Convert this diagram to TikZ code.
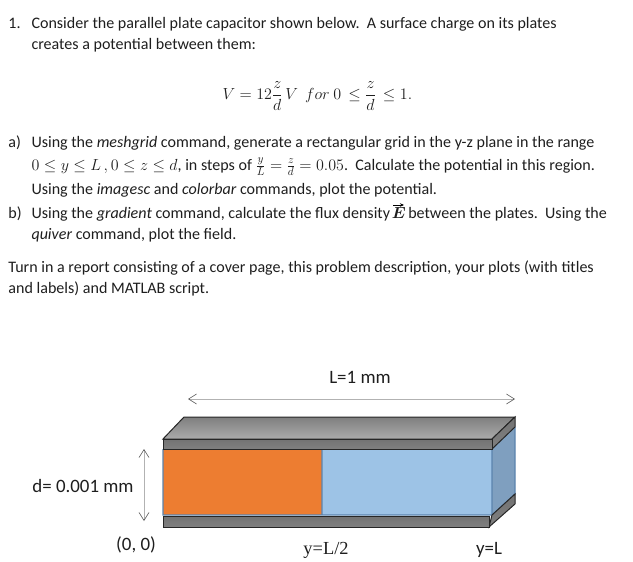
\RequirePackage{fix-cm}
\documentclass[tikz,border=0pt]{standalone}
\usepackage{amsmath}
\usepackage{fontspec}
\setmainfont{Carlito}
\newfontfamily\serifname{Liberation Serif}
\usetikzlibrary{arrows.meta}
\definecolor{plategray}{HTML}{7F7F7F}
\definecolor{orangeface}{HTML}{ED7D31}
\definecolor{blueface}{HTML}{9DC3E6}
\definecolor{blueside}{HTML}{7F9FBF}
\definecolor{blueedge}{HTML}{5B84AE}
\definecolor{inktext}{HTML}{1E1E1E}
\begin{document}
\begin{tikzpicture}[line width = 1pt,
                    x = 1pt,
                    y = -1pt,
                    line/.style = {anchor = base west, inner sep = 0pt, text = inktext,
                                   font = \fontsize{16.05}{18}\selectfont},
                    label/.style = {inner sep = 0pt, text = inktext,
                                    font = \fontsize{18.9}{21}\selectfont},
                    plate/.style = {draw = black!85, top color = black!55, bottom color = black!50},
                    dim/.style = {draw = black!30, line width = 0.8pt,
                                  {Straight Barb[length = 8pt, width = 10pt, black!65, line width = 0.6pt]}-{Straight Barb[length = 8pt, width = 10pt, black!65, line width = 0.6pt]}}]

    \useasboundingbox (0,0) rectangle (633,562);

    % problem text
    \node[line] (N1) at (8,28) {1.};
    \node[line] (T1) at (31,28) {Consider the parallel plate capacitor shown below.\ \ A surface charge on its plates};
    \node[line] (T2) at (31,49) {creates a potential between them:};
    \node[line] (EQ) at (222,99) {$\displaystyle V = 12\frac{z}{d}\,V\ \ for\ 0\,\le\frac{z}{d}\,\le 1.$};

    \node[line] (NA) at (8,147) {a)};
    \node[line] (A1) at (31,147) {Using the \textit{meshgrid} command, generate a rectangular grid in the y-z plane in the range};
    \node[line] (A2) at (31,170) {$0\le y\le L\,,0\le z\le d$, in steps of $\frac{y}{L}=\frac{z}{d}=0.05$.\ \ Calculate the potential in this region.};
    \node[line] (A3) at (31,194) {Using the \textit{imagesc} and \textit{colorbar} commands, plot the potential.};
    \node[line] (NB) at (8,218) {b)};
    \node[line] (B1) at (31,218) {Using the \textit{gradient} command, calculate the flux density\hspace{-2pt} $\boldsymbol{E}$\hspace{-1pt} between the plates.\ \ Using the};
    \node[line] (B2) at (31,239) {\textit{quiver} command, plot the field.};

    \node[line] (R1) at (8,272) {Turn in a report consisting of a cover page, this problem description, your plots (with titles};
    \node[line] (R2) at (8,293) {and labels) and MATLAB script.};

    \coordinate (EA) at (393,205);
    \coordinate (EB) at (404,205);
    \draw[line width = 0.7pt, -{Stealth[length = 4pt, width = 3.5pt]}] (EA) -- (EB);

    % capacitor
    \fill[blueside] (492,449) -- (515,427) -- (515,494) -- (492,515) -- cycle;
    \fill[orangeface] (163,449) rectangle (322,515);
    \fill[blueface] (322,449) rectangle (492,515);
    \draw[blueedge, line width = 1.2pt] (163,449) -- (163,515) -- (492,515) -- (492,449)
                                        (322,449) -- (322,515)
                                        (515,427) -- (515,494) -- (492,515);
    \draw[plate] (492,515) -- (515,494) -- (515,504) -- (489,527) -- cycle;
    \draw[plate] (163,516) rectangle (489,527);
    \draw[draw = black!85, top color = plategray, bottom color = black!33]
        (163,439) -- (184,417) -- (515,417) -- (492,439) -- cycle;
    \draw[plate] (492,439) -- (515,417) -- (515,427) -- (492,449) -- cycle;
    \draw[plate] (163,439) rectangle (492,449);

    % dimensions
    \coordinate (LA) at (188,399);
    \coordinate (LB) at (515,399);
    \coordinate (DA) at (144,449);
    \coordinate (DB) at (144,521);
    \draw[dim] (LA) -- (LB);
    \draw[dim] (DA) -- (DB);

    \node[label] (LL) at (360,377) {L=1 mm};
    \node[label] (DL) at (83,486) {d= 0.001 mm};
    \node[label] (OL) at (136,545) {(0, 0)};
    \node[label, font = \serifname\fontsize{18.4}{21}\selectfont] (MY) at (326,550) {y=L/2};
    \node[label] (EY) at (489,550) {y=L};
\end{tikzpicture}
\end{document}
